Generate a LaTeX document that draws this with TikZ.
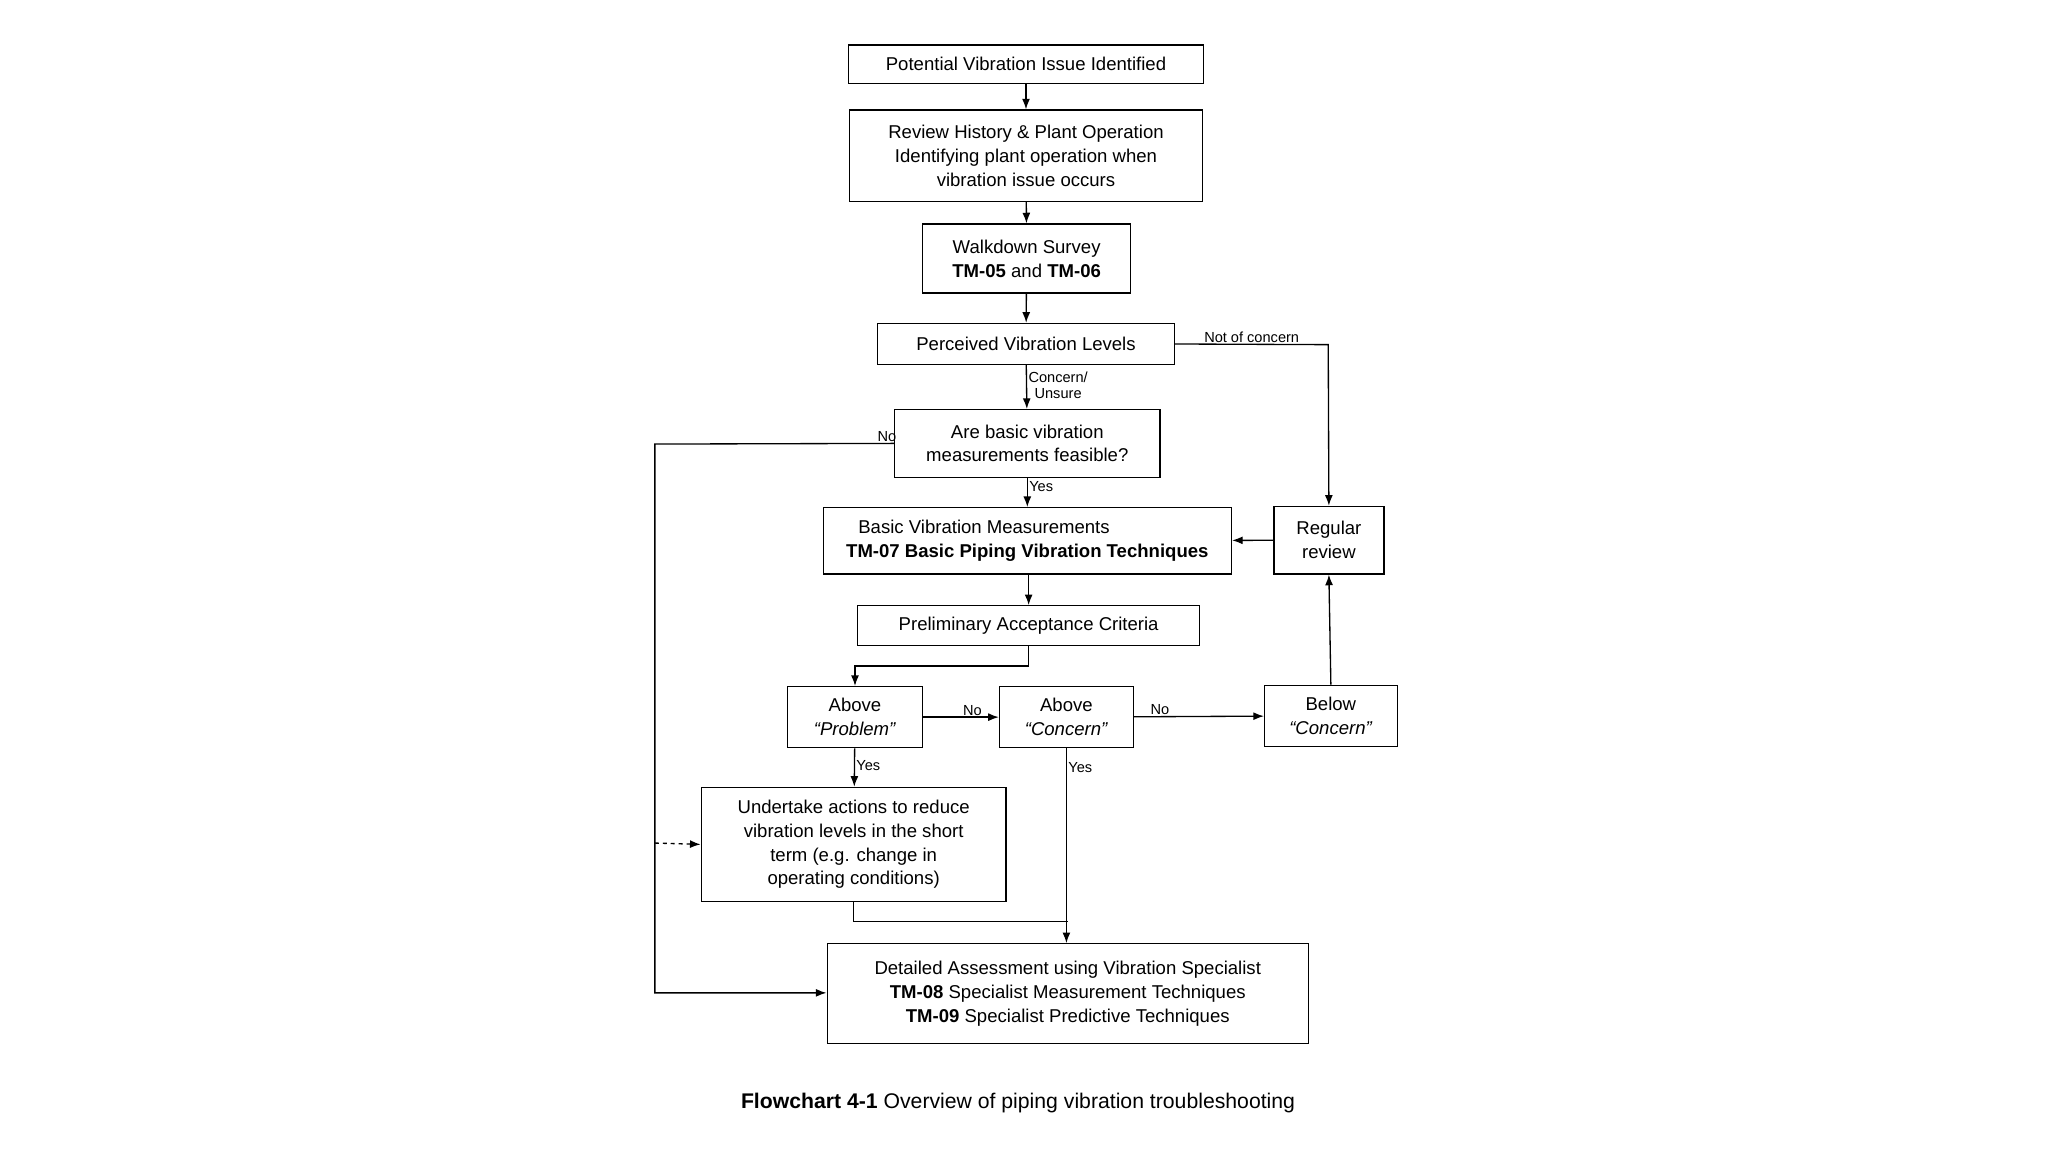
\documentclass[tikz,border=0pt]{standalone}
\usepackage{fontspec}
\setmainfont{Liberation Sans}
\usetikzlibrary{arrows.meta}
\begin{document}
\begin{tikzpicture}[x=1pt,y=-1pt,
 box/.style={draw,line width=1pt,align=center,inner sep=0pt,font=\fontsize{14}{18}\selectfont},
 lbl/.style={font=\fontsize{11}{12}\selectfont,inner sep=1pt},
 arr/.style={-{Latex[length=8pt,width=6pt]},line width=1pt}]
\useasboundingbox (0,0) rectangle (1545,869);
\newcommand\bx[6]{\node[box,minimum width=#4-#2,minimum height=#5-#3] (#1) at ({(#2+#4)/2},{(#3+#5)/2}) {#6};}
\bx{b1}{640}{34}{908}{63}{Potential Vibration Issue Identified}
\bx{b2}{641}{83}{907}{152}{Review History \& Plant Operation\\Identifying plant operation when\\vibration issue occurs}
\bx{b3}{696}{169}{853}{221}{Walkdown Survey\\\textbf{TM-05} and \textbf{TM-06}}
\bx{b4}{662}{244}{886}{275}{Perceived Vibration Levels}
\bx{b5}{675}{309}{875}{360}{Are basic vibration\\measurements feasible?}
\bx{b6}{621}{383}{929}{433}{Basic Vibration Measurements\phantom{XXXXXXX}\\\textbf{TM-07 Basic Piping Vibration Techniques}}
\bx{rr}{961}{382}{1044}{433}{Regular\\review}
\bx{b7}{647}{457}{905}{487}{Preliminary Acceptance Criteria}
\bx{ap}{594}{518}{696}{564}{Above\\\textit{``Problem''}}
\bx{ac}{754}{518}{855}{564}{Above\\\textit{``Concern''}}
\bx{bc}{954}{517}{1054}{563}{Below\\\textit{``Concern''}}
\bx{ua}{529}{594}{759}{680}{Undertake actions to reduce\\vibration levels in the short\\term (e.g. change in\\operating conditions)}
\bx{da}{624}{712}{987}{787}{Detailed Assessment using Vibration Specialist\\\textbf{TM-08} Specialist Measurement Techniques\\\textbf{TM-09} Specialist Predictive Techniques}
\node[font=\fontsize{16}{18}\selectfont] (cap) at (768,832) {\textbf{Flowchart 4-1} Overview of piping vibration troubleshooting};
\coordinate (c1) at (1002,260);
\coordinate (c2) at (494,335);
\coordinate (c3) at (494,749);
\coordinate (c4) at (494,636);
\coordinate (c5) at (806,695);
\draw[arr] (b1) -- (b2);
\draw[arr] (b2) -- (b3);
\draw[arr] (b3) -- (b4);
\draw[arr] (b4) -- node[lbl,right,align=center,pos=0.45]{Concern/\\Unsure} (b5);
\draw[arr] (b5) -- node[lbl,right,pos=0.3]{Yes} (b6);
\draw[arr] (b4.east) -- node[lbl,above,pos=0.5]{Not of concern} (c1) -- (rr.north);
\draw[arr] (rr) -- (b6);
\draw[arr] (b6.south -| b7) -- (b7);
\draw[arr] (b7.south) -- ++(0,15) -| (ap.north);
\draw[arr] (ap) -- node[lbl,above,pos=0.65]{No} (ac);
\draw[arr] (ac) -- node[lbl,above,pos=0.2]{No} (bc);
\draw[arr] (bc.north) -- (rr.south);
\draw[arr] (ap) -- node[lbl,right,pos=0.45]{Yes} (ua);
\draw[arr] (ac.south) -- node[lbl,right,pos=0.1]{Yes} (da.north -| ac.south);
\draw[line width=1pt] (ua.south) |- (c5);
\draw[arr] (b5.west) -- node[lbl,above,pos=0.03]{No} (c2) -- (c3) -- (c3 -| da.west);
\draw[arr,dashed] (c4) -- (ua.west);
\end{tikzpicture}
\end{document}
